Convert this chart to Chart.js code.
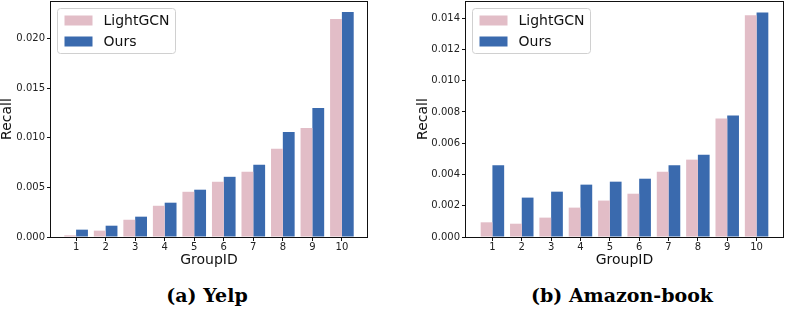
<!DOCTYPE html>
<html>
<head>
<meta charset="utf-8">
<script src="https://cdn.jsdelivr.net/npm/chart.js@4"></script>
<style>
  body { margin: 0; background: #fff; width: 786px; height: 310px; position: relative; overflow: hidden; }
  canvas { position: absolute; top: 0; }
  .caption { position: absolute; top: 283px; height: 24px; line-height: 24px; text-align: center;
             font-family: "DejaVu Serif", serif; font-weight: bold; font-size: 19px; color: #000; }
</style>
</head>
<body>
<canvas id="yelpChart" width="393" height="275" style="left:0px"></canvas>
<canvas id="amazonChart" width="376" height="275" style="left:410px"></canvas>
<div class="caption" style="left:0px; width:414px">(a) Yelp</div>
<div class="caption" style="left:472px; width:300px">(b) Amazon-book</div>
<script>
// Group ids on the x axis
const groups = [1, 2, 3, 4, 5, 6, 7, 8, 9, 10];
const seriesNames = ['LightGCN', 'Ours'];

// Recall per group
const yelpLightGCN = [0.00017, 0.00064, 0.00174, 0.00315, 0.00456, 0.00557, 0.00658, 0.00889, 0.0110, 0.02198];
const yelpOurs = [0.00074, 0.00114, 0.00205, 0.00346, 0.00477, 0.00607, 0.00728, 0.0106, 0.0130, 0.02268];
const amazonLightGCN = [0.00094, 0.00085, 0.00124, 0.00188, 0.00233, 0.00277, 0.00418, 0.00495, 0.00758, 0.01419];
const amazonOurs = [0.00459, 0.00252, 0.0029, 0.00335, 0.00354, 0.00373, 0.00459, 0.00527, 0.00777, 0.01436];

const pink = '#e2bdc7';
const blue = '#3a6aae';
const tickFont = { family: 'DejaVu Sans', size: 10 };
const labelFont = { family: 'DejaVu Sans', size: 14 };

// Draws the box around the plot and the legend in the upper left corner
const frameLegend = {
    id: 'frameLegend',
    afterDraw(chart) {
        const ctx = chart.ctx;
        const a = chart.chartArea;
        ctx.save();
        ctx.strokeStyle = '#111';
        ctx.lineWidth = 1;
        ctx.strokeRect(Math.round(a.left) - 0.5, Math.round(a.top) + 0.5,
            Math.round(a.right - a.left) + 1, Math.round(a.bottom - a.top));

        const lx = a.left + 6.5, ly = a.top + 7.5;
        ctx.fillStyle = 'rgba(255,255,255,0.8)';
        ctx.strokeStyle = '#d0d0d0';
        ctx.beginPath();
        ctx.roundRect(lx, ly, 118, 45, 3);
        ctx.fill();
        ctx.stroke();

        ctx.font = '14px "DejaVu Sans"';
        ctx.textBaseline = 'middle';
        chart.data.datasets.forEach((ds, i) => {
            const cy = ly + 12 + i * 21;
            ctx.fillStyle = ds.backgroundColor;
            ctx.fillRect(lx + 7, cy - 5, 28, 10);
            ctx.fillStyle = '#111';
            ctx.fillText(ds.label, lx + 46, cy + 1);
        });
        ctx.restore();
    }
};

function makeChart(id, lightVals, oursVals, yMax, yStep, xMin, xMax, yWidth, pad) {
    const ctx = document.getElementById(id).getContext('2d');
    return new Chart(ctx, {
        type: 'bar',
        data: {
            datasets: [
                { label: seriesNames[0], data: groups.map((g, i) => ({ x: g, y: lightVals[i] })), backgroundColor: pink },
                { label: seriesNames[1], data: groups.map((g, i) => ({ x: g, y: oursVals[i] })), backgroundColor: blue }
            ]
        },
        options: {
            responsive: false,
            animation: false,
            devicePixelRatio: 1,
            layout: { padding: pad },
            categoryPercentage: 0.8,
            barPercentage: 1.0,
            plugins: { legend: { display: false }, tooltip: { enabled: false } },
            scales: {
                x: {
                    type: 'linear',
                    offset: false,
                    min: xMin,
                    max: xMax,
                    afterBuildTicks: (axis) => { axis.ticks = groups.map(v => ({ value: v })); },
                    afterFit: (axis) => { axis.height = 38; axis.paddingLeft = 0; axis.paddingRight = 0; },
                    ticks: { font: tickFont, color: '#222', padding: 0, maxRotation: 0, autoSkip: false },
                    grid: { offset: false, drawOnChartArea: false, drawTicks: true, tickLength: 4, color: '#111' },
                    border: { display: false },
                    title: { display: true, text: 'GroupID', font: labelFont, color: '#111', padding: { top: 0, bottom: 6 } }
                },
                y: {
                    min: 0,
                    max: yMax,
                    afterFit: (axis) => { axis.width = yWidth; axis.paddingTop = 0; axis.paddingBottom = 0; },
                    ticks: {
                        stepSize: yStep,
                        includeBounds: false,
                        font: tickFont,
                        color: '#222',
                        padding: 2,
                        callback: (v) => v.toFixed(3)
                    },
                    grid: { drawOnChartArea: false, drawTicks: true, tickLength: 4, color: '#111' },
                    border: { display: false },
                    title: {
                        display: true, text: 'Recall', color: '#111', padding: 0,
                        font: { family: 'DejaVu Sans', size: 14, lineHeight: 1 }
                    }
                }
            }
        },
        plugins: [frameLegend]
    });
}

makeChart('yelpChart', yelpLightGCN, yelpOurs, 0.0238, 0.005, 0.15, 10.85, 51,
    { left: 0, top: 1, right: 26, bottom: 0 });
makeChart('amazonChart', amazonLightGCN, amazonOurs, 0.0151, 0.002, 0.1, 10.9, 50,
    { left: 6, top: 1, right: 3, bottom: 0 });
</script>
</body>
</html>
